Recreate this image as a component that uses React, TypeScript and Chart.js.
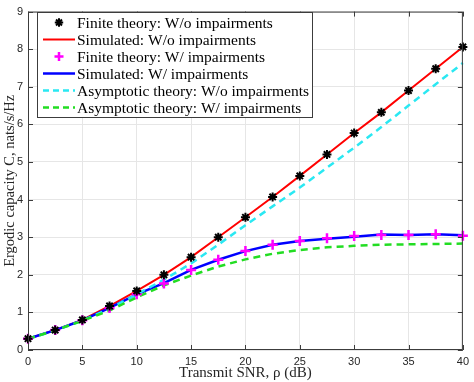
import React, { useEffect, useRef } from "react";
import { Chart, registerables } from "chart.js";

Chart.register(...registerables);

const snrDb = [0, 2.5, 5, 7.5, 10, 12.5, 15, 17.5, 20, 22.5, 25, 27.5, 30, 32.5, 35, 37.5, 40];
const finiteWo = [0.3, 0.53, 0.8, 1.17, 1.57, 2.0, 2.47, 3.0, 3.53, 4.07, 4.63, 5.2, 5.77, 6.32, 6.9, 7.48, 8.06];
const simulatedWo = [0.3, 0.53, 0.8, 1.17, 1.57, 2.0, 2.47, 3.0, 3.53, 4.07, 4.63, 5.2, 5.77, 6.32, 6.9, 7.48, 8.06];
const finiteW = [0.3, 0.53, 0.79, 1.12, 1.48, 1.77, 2.13, 2.4, 2.63, 2.8, 2.9, 2.97, 3.03, 3.06, 3.06, 3.08, 3.04];
const simulatedW = [0.3, 0.53, 0.79, 1.12, 1.48, 1.78, 2.13, 2.4, 2.63, 2.8, 2.9, 2.96, 3.01, 3.07, 3.06, 3.08, 3.05];
const asymptoticWo = [0.3, 0.52, 0.78, 1.1, 1.48, 1.87, 2.3, 2.8, 3.32, 3.82, 4.32, 4.85, 5.38, 5.93, 6.5, 7.07, 7.63];
const asymptoticW = [0.3, 0.52, 0.78, 1.05, 1.4, 1.72, 1.98, 2.22, 2.41, 2.56, 2.66, 2.73, 2.77, 2.8, 2.81, 2.82, 2.83];

const xTicks = [0, 5, 10, 15, 20, 25, 30, 35, 40];
const yTicks = [0, 1, 2, 3, 4, 5, 6, 7, 8, 9];

const legendLabels = [
  "Finite theory: W/o impairments",
  "Simulated: W/o impairments",
  "Finite theory: W/ impairments",
  "Simulated: W/ impairments",
  "Asymptotic theory: W/o impairments",
  "Asymptotic theory: W/ impairments",
];

const RED = "#ff0000";
const BLUE = "#0000ff";
const MAGENTA = "#ff00ff";
const CYAN = "#2ae8f2";
const GREEN = "#22dd22";
const SERIF = "'Liberation Serif', 'DejaVu Serif', serif";
const SANS = "'Liberation Sans', Arial, sans-serif";

function pts(ys: number[]) {
  return snrDb.map((x, i) => ({ x, y: ys[i] }));
}

function drawStar(ctx: CanvasRenderingContext2D, x: number, y: number, r: number) {
  ctx.save();
  ctx.strokeStyle = "#000";
  ctx.lineWidth = 2;
  ctx.beginPath();
  for (let k = 0; k < 4; k++) {
    const a = (k * Math.PI) / 4;
    ctx.moveTo(x - r * Math.cos(a), y - r * Math.sin(a));
    ctx.lineTo(x + r * Math.cos(a), y + r * Math.sin(a));
  }
  ctx.stroke();
  ctx.restore();
}

function drawCross(ctx: CanvasRenderingContext2D, x: number, y: number, r: number) {
  ctx.save();
  ctx.strokeStyle = MAGENTA;
  ctx.lineWidth = 2.5;
  ctx.beginPath();
  ctx.moveTo(x - r, y);
  ctx.lineTo(x + r, y);
  ctx.moveTo(x, y - r);
  ctx.lineTo(x, y + r);
  ctx.stroke();
  ctx.restore();
}

const frameAndLegend = {
  id: "frameAndLegend",
  afterDatasetsDraw(chart: any) {
    const ctx: CanvasRenderingContext2D = chart.ctx;
    const { left, right, top, bottom } = chart.chartArea;
    const xs = chart.scales.x;
    const ys = chart.scales.y;
    ctx.save();
    ctx.strokeStyle = "#3c3c3c";
    ctx.lineWidth = 1;
    ctx.strokeRect(left + 0.5, top + 0.5, right - left - 1, bottom - top - 1);
    const tl = 5;
    ctx.beginPath();
    xTicks.forEach((v) => {
      const px = Math.round(xs.getPixelForValue(v)) + 0.5;
      ctx.moveTo(px, bottom);
      ctx.lineTo(px, bottom - tl);
      ctx.moveTo(px, top);
      ctx.lineTo(px, top + tl);
    });
    yTicks.forEach((v) => {
      const py = Math.round(ys.getPixelForValue(v)) + 0.5;
      ctx.moveTo(left, py);
      ctx.lineTo(left + tl, py);
      ctx.moveTo(right, py);
      ctx.lineTo(right - tl, py);
    });
    ctx.stroke();

    // legend
    const bx = 37, by = 12, bw = 275, bh = 105;
    ctx.fillStyle = "#ffffff";
    ctx.fillRect(bx, by, bw, bh);
    ctx.strokeStyle = "#3c3c3c";
    ctx.lineWidth = 1;
    ctx.strokeRect(bx + 0.5, by + 0.5, bw, bh);
    const rowH = 17;
    const y0 = by + 10.5;
    const sx0 = 43, sx1 = 75, tx = 77;
    ctx.font = `15.5px ${SERIF}`;
    ctx.textBaseline = "middle";
    ctx.textAlign = "left";
    legendLabels.forEach((lab, i) => {
      const cy = y0 + i * rowH;
      const mid = (sx0 + sx1) / 2;
      if (i === 0) drawStar(ctx, mid, cy, 4.2);
      else if (i === 2) drawCross(ctx, mid, cy, 4.5);
      else {
        ctx.save();
        ctx.beginPath();
        ctx.lineWidth = i === 1 ? 2 : 2.5;
        ctx.strokeStyle = i === 1 ? RED : i === 3 ? BLUE : i === 4 ? CYAN : GREEN;
        if (i >= 4) ctx.setLineDash([6, 4]);
        ctx.moveTo(sx0, cy);
        ctx.lineTo(sx1, cy);
        ctx.stroke();
        ctx.restore();
      }
      ctx.fillStyle = "#000";
      ctx.fillText(lab, tx, cy + 1);
    });
    ctx.restore();
  },
};

export default function App() {
  const ref = useRef<HTMLCanvasElement | null>(null);
  useEffect(() => {
    if (!ref.current) return;
    const chart = new Chart(ref.current, {
      type: "line",
      data: {
        datasets: [
          {
            label: legendLabels[0],
            data: pts(finiteWo),
            showLine: false,
            pointStyle: "star",
            pointRadius: 4.5,
            pointBorderWidth: 2,
            pointBorderColor: "#000",
            pointBackgroundColor: "#000",
            order: 0,
            clip: false as any,
          },
          {
            label: legendLabels[1],
            data: pts(simulatedWo),
            borderColor: RED,
            borderWidth: 2,
            pointRadius: 0,
            order: 5,
            clip: false as any,
          },
          {
            label: legendLabels[2],
            data: pts(finiteW),
            showLine: false,
            pointStyle: "cross",
            pointRadius: 5,
            pointBorderWidth: 2.5,
            pointBorderColor: MAGENTA,
            pointBackgroundColor: MAGENTA,
            order: 1,
            clip: false as any,
          },
          {
            label: legendLabels[3],
            data: pts(simulatedW),
            borderColor: BLUE,
            borderWidth: 2.5,
            pointRadius: 0,
            order: 4,
            clip: false as any,
          },
          {
            label: legendLabels[4],
            data: pts(asymptoticWo),
            borderColor: CYAN,
            borderWidth: 2.5,
            borderDash: [7, 5],
            pointRadius: 0,
            order: 3,
            clip: false as any,
          },
          {
            label: legendLabels[5],
            data: pts(asymptoticW),
            borderColor: GREEN,
            borderWidth: 2.5,
            borderDash: [7, 5],
            pointRadius: 0,
            order: 2,
            clip: false as any,
          },
        ],
      },
      options: {
        animation: false,
        responsive: false,
        maintainAspectRatio: false,
        layout: { padding: { left: 0, right: 6, top: 3, bottom: 0 } },
        plugins: { legend: { display: false }, tooltip: { enabled: false } },
        elements: { line: { tension: 0 } },
        scales: {
          x: {
            type: "linear",
            min: 0,
            max: 40,
            afterBuildTicks: (s: any) => {
              s.ticks = xTicks.map((v) => ({ value: v }));
            },
            afterFit: (s: any) => {
              s.height = 32;
            },
            grid: { color: "#e6e6e6", drawTicks: false },
            border: { display: false },
            ticks: {
              padding: 5,
              color: "#262626",
              font: { family: SANS, size: 11 },
              maxRotation: 0,
            },
            title: {
              display: true,
              text: "Transmit SNR, ρ (dB)",
              color: "#262626",
              font: { family: SERIF, size: 15 },
              padding: { top: 0, bottom: 0 },
            },
          },
          y: {
            type: "linear",
            min: 0,
            max: 9,
            afterBuildTicks: (s: any) => {
              s.ticks = yTicks.map((v) => ({ value: v }));
            },
            afterFit: (s: any) => {
              s.width = 28;
            },
            grid: { color: "#e6e6e6", drawTicks: false },
            border: { display: false },
            ticks: {
              padding: 5,
              color: "#262626",
              font: { family: SANS, size: 11 },
            },
            title: {
              display: true,
              text: "Ergodic capacity C, nats/s/Hz",
              color: "#262626",
              font: { family: SERIF, size: 14.5 },
              padding: { top: 1, bottom: 0 },
            },
          },
        },
      },
      plugins: [frameAndLegend],
    });
    return () => chart.destroy();
  }, []);
  return (
    <div style={{ position: "fixed", left: 0, top: 0, width: 474, height: 382, background: "#fff" }}>
      <canvas ref={ref} width={474} height={382} style={{ width: 474, height: 382, display: "block" }} />
    </div>
  );
}
